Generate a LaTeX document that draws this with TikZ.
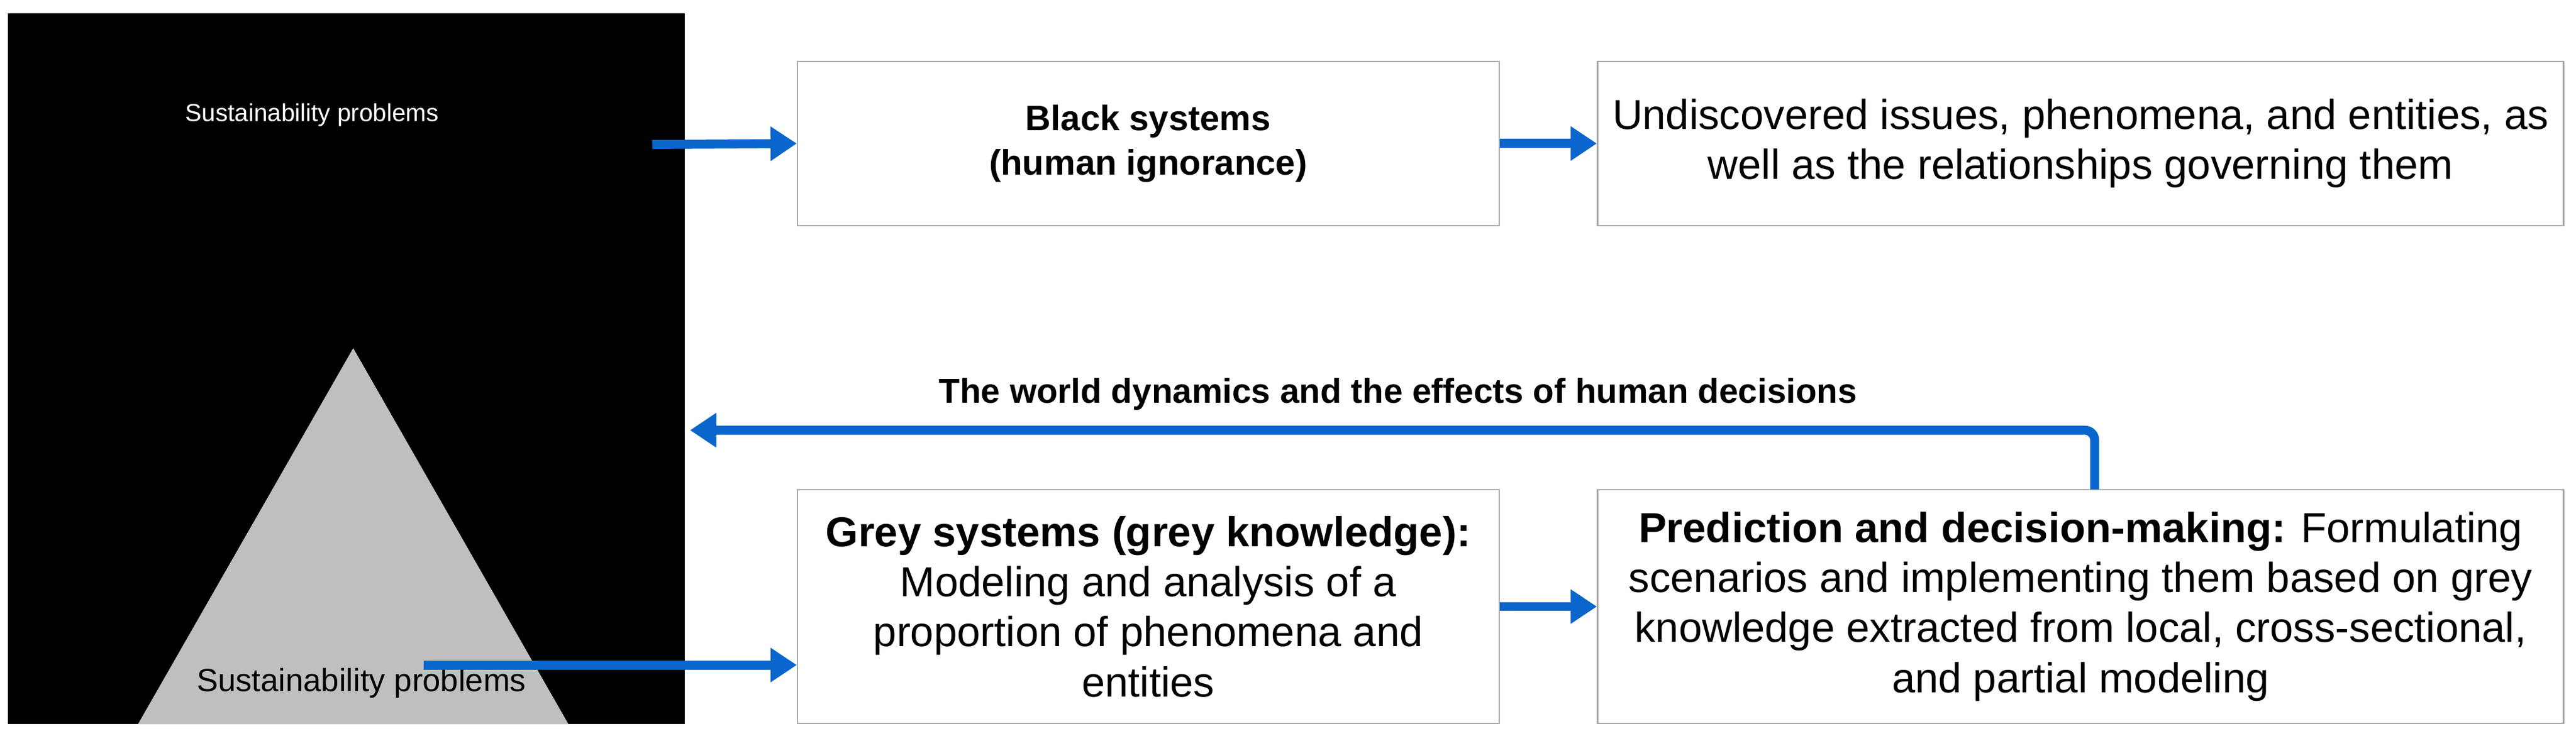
\documentclass[tikz,border=0pt]{standalone}
\usepackage{fontspec}
\setmainfont{Liberation Sans}
\usetikzlibrary{arrows.meta}
\definecolor{ablue}{HTML}{0A66CC}
\definecolor{tgrey}{HTML}{BFBFBF}
\tikzset{
 boxn/.style={draw=gray!70,line width=0.8pt,anchor=north west,inner sep=0pt,align=center,font=\fontsize{25.5}{30.5}\selectfont},
 barrow/.style={draw=ablue,line width=5.5pt,-{Triangle[length=16pt,width=20pt]}},
}
\begin{document}
\begin{tikzpicture}[x=1pt,y=-1pt]
\useasboundingbox[fill=white] (0,0) rectangle (1568,451);
\fill[black] (5,8) rectangle (417,441);
\fill[tgrey] (215,212) -- (346,441) -- (84,441) -- cycle;
\node[text=white,font=\fontsize{15}{18}\selectfont] (t1) at (190,70) {Sustainability problems};
\node[font=\fontsize{19.5}{23}\selectfont] (t2) at (220,416) {Sustainability problems};
\node[boxn,minimum width=427pt,minimum height=100pt,font=\fontsize{21.5}{27}\selectfont\bfseries] (b1) at (485,37) {Black systems\\(human ignorance)};
\node[boxn,minimum width=588pt,minimum height=100pt] (b2) at (972,37) {Undiscovered issues, phenomena, and entities, as\\well as the relationships governing them};
\node[boxn,minimum width=427pt,minimum height=142pt] (b3) at (485,298) {\textbf{Grey systems (grey knowledge):}\\Modeling and analysis of a\\proportion of phenomena and\\entities};
\node[boxn,minimum width=588pt,minimum height=142pt] (b4) at (972,298) {\textbf{Prediction and decision-making:} Formulating\\scenarios and implementing them based on grey\\knowledge extracted from local, cross-sectional,\\and partial modeling};
\coordinate (s1) at (397,88);
\coordinate (s3) at (258,405);
\coordinate (fb) at (420,262);
\draw[barrow] (s1) -- (b1.west);
\draw[barrow] (b1.east) -- (b2.west);
\draw[barrow] (s3) -- (s3 -| b3.west);
\draw[barrow] (b3.east) -- (b4.west);
\draw[barrow,rounded corners=6pt] (b4.north west) ++(303,0) |- (fb);
\node[font=\fontsize{21}{25}\selectfont\bfseries] (lab) at (851,240) {The world dynamics and the effects of human decisions};
\end{tikzpicture}
\end{document}
